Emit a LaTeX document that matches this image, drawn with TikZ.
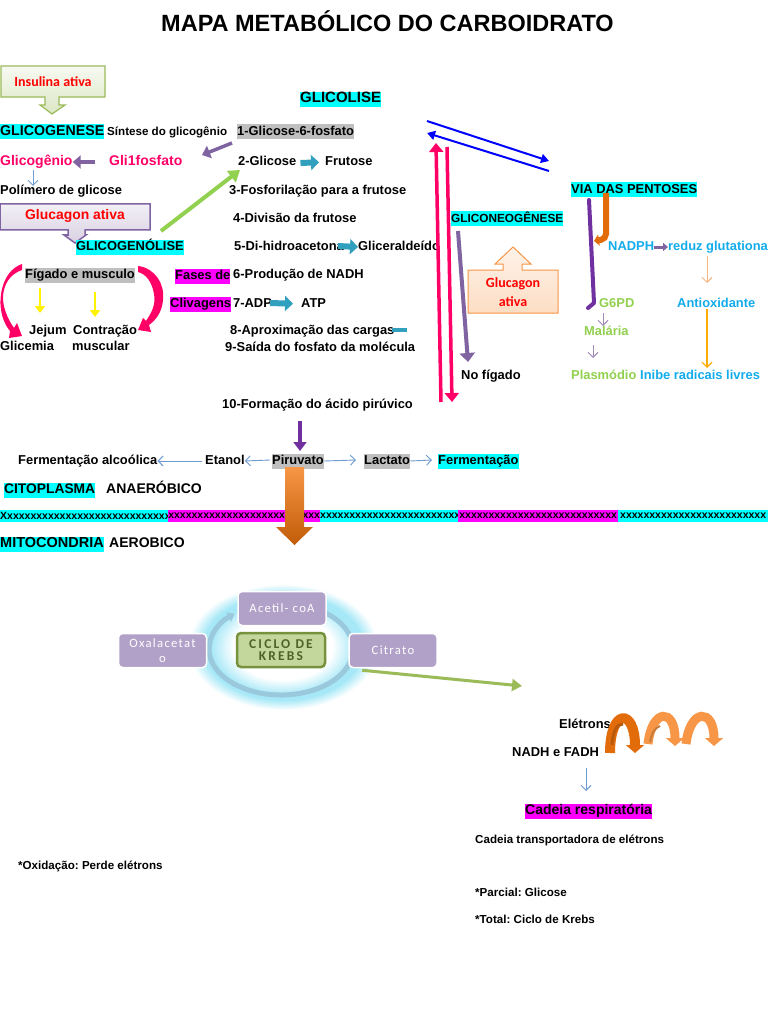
\documentclass[tikz,border=0pt]{standalone}
\usepackage{fontspec}
\setmainfont{Liberation Sans}
\newfontfamily\calibrifont{Carlito}
\newfontfamily\spacedfont[LetterSpace=10]{Carlito}
\newfontfamily\widefont[LetterSpace=16]{Carlito}
\usetikzlibrary{arrows.meta}
\definecolor{hlcyan}{HTML}{00FFFF}
\definecolor{hlmagenta}{HTML}{FF00FF}
\definecolor{hlgray}{HTML}{BFBFBF}
\definecolor{pinktext}{HTML}{FF0066}
\definecolor{skytext}{HTML}{12ACEC}
\definecolor{leaftext}{HTML}{92D050}
\definecolor{violetline}{HTML}{8064A2}
\definecolor{deepviolet}{HTML}{7030A0}
\definecolor{tealarrow}{HTML}{31A0BE}
\definecolor{thinblue}{HTML}{6E9BD2}
\definecolor{orangeline}{HTML}{E36C0A}
\definecolor{orangelight}{HTML}{F79646}
\definecolor{orangedark}{HTML}{B85A0A}
\definecolor{glowcyan}{HTML}{A6E8F7}
\definecolor{ringblue}{HTML}{9AC8DC}
\definecolor{boxviolet}{HTML}{B1A0C7}
\definecolor{krebsfill}{HTML}{C3D69B}
\definecolor{krebsline}{HTML}{76923C}
\definecolor{krebstext}{HTML}{4F6228}
\definecolor{oliveline}{HTML}{9BBB59}
\pgfdeclareradialshading{glowring}{\pgfpoint{0bp}{0bp}}{color(0bp)=(white); color(13bp)=(white); color(19bp)=(glowcyan); color(21bp)=(glowcyan); color(25bp)=(white); color(50bp)=(white)}

\begin{document}
\frenchspacing
\begin{tikzpicture}[x=1pt,y=-1pt]
	\tikzstyle{lbl}=[anchor=west,inner sep=0pt,yshift=-1pt,text height=9.5pt,text depth=2.5pt,font=\bfseries\fontsize{12.9}{14}\selectfont]
	\tikzstyle{biglbl}=[lbl,font=\bfseries\fontsize{14}{16}\selectfont]
	\tikzstyle{smalllbl}=[lbl,font=\bfseries\fontsize{11.6}{13}\selectfont]
	\tikzstyle{cyanlbl}=[lbl,fill=hlcyan,inner ysep=1.5pt]
	\tikzstyle{magentalbl}=[lbl,fill=hlmagenta,inner ysep=1.5pt]
	\tikzstyle{graylbl}=[lbl,fill=hlgray,inner ysep=1.5pt]
	\tikzstyle{stripbit}=[anchor=west,inner sep=0pt,minimum height=12pt,font=\bfseries\fontsize{10.5}{12}\selectfont]
	\tikzstyle{calloutlbl}=[inner sep=0pt,align=center,text=red,font=\calibrifont\bfseries\fontsize{14}{19}\selectfont]
	\tikzstyle{krebsbox}=[draw=white,line width=1.5pt,rounded corners=4pt,fill=boxviolet,text=white,minimum width=88pt,minimum height=34pt,align=center,inner sep=1pt,font=\spacedfont\fontsize{12.7}{15}\selectfont]
	\tikzstyle{teal}=[tealarrow,line width=6pt,-{Triangle[length=8pt,width=15pt]}]
	\tikzstyle{violet}=[violetline,line width=3.5pt,-{Triangle[length=8pt,width=13pt]}]
	\tikzstyle{thin blue}=[thinblue,line width=0.9pt,-{Straight Barb[length=5pt,width=10pt]}]
	\tikzstyle{pinkline}=[pinktext,line width=3.5pt,-{Triangle[length=9pt,width=14pt]}]
	\tikzstyle{blueline}=[blue,line width=2pt,-{Triangle[length=8pt,width=9pt]}]
	\tikzstyle{yellowline}=[yellow,line width=2.8pt,-{Triangle[length=7pt,width=10pt]}]
	\tikzstyle{spiral}=[orangelight,line width=9pt,-{Triangle[length=8pt,width=18pt]}]

	\useasboundingbox (0,0) rectangle (768,1024);
	\fill[white] (0,0) rectangle (768,1024);

	\node[inner sep=0pt,font=\bfseries\fontsize{23.5}{26}\selectfont] (title) at (387.5,21) {MAPA METABÓLICO DO CARBOIDRATO};

	\draw[draw=oliveline,line width=1.2pt,top color=oliveline!8,bottom color=oliveline!35] (1,66) -- (105,66) -- (105,97) -- (59,97) -- (59,105) -- (65,105) -- (52,114) -- (40,105) -- (45,105) -- (45,97) -- (1,97) -- cycle;
	\node[calloutlbl] (insulina) at (53,82) {Insulina ativa};
	\draw[draw=violetline,line width=1.5pt,top color=violetline!10,bottom color=violetline!30] (0,204) -- (150,204) -- (150,230) -- (85,230) -- (85,235) -- (86,235) -- (75,243) -- (64,235) -- (68,235) -- (68,230) -- (0,230) -- cycle;
	\node[inner sep=0pt,text=red,font=\bfseries\fontsize{13.9}{16}\selectfont] (glucagonA) at (75,216) {Glucagon ativa};
	\draw[draw=orangelight,line width=1pt,top color=orangelight!12,bottom color=orangelight!32] (468,270) -- (503,270) -- (503,264) -- (495,264) -- (513,247) -- (531,264) -- (522,264) -- (522,270) -- (558,270) -- (558,313) -- (468,313) -- cycle;
	\node[calloutlbl] (glucagonB) at (513,292.5) {Glucagon\\ativa};

	\node[cyanlbl,font=\bfseries\fontsize{15}{17}\selectfont] (glicolise) at (300,98.5) {GLICOLISE};
	\node[cyanlbl,font=\bfseries\fontsize{14.2}{16}\selectfont] (glicogenese) at (0,131) {GLICOGENESE};
	\node[smalllbl] (sintese) at (107,131) {Síntese do glicogênio};
	\node[graylbl] (step1) at (237,131) {1-Glicose-6-fosfato};
	\node[biglbl,text=pinktext] (glicogenio) at (0,161) {Glicogênio};
	\node[biglbl,text=pinktext] (gli1) at (109,161) {Gli1fosfato};
	\node[lbl] (step2) at (238,161) {2-Glicose};
	\node[lbl] (frutose) at (325,161) {Frutose};
	\node[lbl] (polimero) at (0,190) {Polímero de glicose};
	\node[lbl] (step3) at (229,190) {3-Fosforilação para a frutose};
	\node[lbl] (step4) at (233,218) {4-Divisão da frutose};
	\node[lbl] (step5) at (234,246) {5-Di-hidroacetona};
	\node[lbl] (gliceraldeido) at (358,246) {Gliceraldeído};
	\node[cyanlbl] (glicogenolise) at (76,246) {GLICOGENÓLISE};
	\node[graylbl] (figado) at (25,274) {Fígado e musculo};
	\node[magentalbl] (fases) at (175,275) {Fases de};
	\node[lbl] (step6) at (233,274) {6-Produção de NADH};
	\node[magentalbl] (clivagens) at (170,303) {Clivagens};
	\node[lbl] (step7) at (233,303) {7-ADP};
	\node[lbl] (atp) at (301,303) {ATP};
	\node[lbl] (jejum) at (29,330) {Jejum};
	\node[lbl] (contracao) at (73,330) {Contração};
	\node[lbl] (glicemia) at (0,346) {Glicemia};
	\node[lbl] (muscular) at (72,346) {muscular};
	\node[lbl] (step8) at (230,330) {8-Aproximação das cargas};
	\node[lbl] (step9) at (225,347) {9-Saída do fosfato da molécula};
	\node[lbl] (step10) at (222,404) {10-Formação do ácido pirúvico};

	\node[cyanlbl,font=\bfseries\fontsize{11.8}{14}\selectfont] (neogenese) at (451,218) {GLICONEOGÊNESE};
	\node[lbl] (nofigado) at (461,375) {No fígado};
	\node[cyanlbl] (pentoses) at (571,189) {VIA DAS PENTOSES};
	\node[lbl,text=skytext] (nadph) at (608,246) {NADPH};
	\node[lbl,text=skytext] (reduz) at (668,246) {reduz glutationa};
	\node[lbl,text=leaftext] (g6pd) at (599,303) {G6PD};
	\node[lbl,text=skytext] (antioxidante) at (677,303) {Antioxidante};
	\node[lbl,text=leaftext] (malaria) at (584,331) {Malária};
	\node[lbl,text=leaftext] (plasmodio) at (571,375) {Plasmódio};
	\node[lbl,text=skytext] (inibe) at (640,375) {Inibe radicais livres};

	\node[lbl] (alcoolica) at (18,460) {Fermentação alcoólica};
	\node[lbl] (etanol) at (205,460) {Etanol};
	\node[graylbl] (piruvato) at (272,460) {Piruvato\hspace{6pt}};
	\node[graylbl] (lactato) at (364,460) {Lactato};
	\node[cyanlbl] (fermentacao) at (438,460) {Fermentação};
	\node[cyanlbl,font=\bfseries\fontsize{13.8}{15}\selectfont] (citoplasma) at (4,489) {CITOPLASMA\hspace{3pt}};
	\node[biglbl] (anaerobico) at (106,489) {ANAERÓBICO};

	\node[stripbit,fill=hlcyan,minimum width=168pt] (strip1) at (0,516) {Xxxxxxxxxxxxxxxxxxxxxxxxxxxxx};
	\node[stripbit,fill=hlmagenta,minimum width=152pt] (strip2) at (168,516) {xxxxxxxxxxxxxxxxxxxxxxxxxx};
	\node[stripbit,fill=hlcyan,minimum width=138pt] (strip3) at (320,516) {xxxxxxxxxxxxxxxxxxxxxxxx};
	\node[stripbit,fill=hlmagenta,minimum width=160pt] (strip4) at (458,516) {xxxxxxxxxxxxxxxxxxxxxxxxxxx};
	\node[stripbit,fill=hlcyan,minimum width=150pt] (strip5) at (618,516) {xxxxxxxxxxxxxxxxxxxxxxxxx};

	\node[cyanlbl,font=\bfseries\fontsize{14.5}{16}\selectfont] (mitocondria) at (0,543) {MITOCONDRIA\hspace{3pt}};
	\node[biglbl] (aerobico) at (109,543) {AEROBICO};

	\shade[shading=glowring] (283,647) ellipse (95 and 63);
	\coordinate (ringcentre) at (281,649);
	\draw[ringblue,line width=5pt,-{Triangle[length=7pt,width=10pt]}] (ringcentre) ++(-60:72 and 46) arc[start angle=-60,end angle=230,x radius=72,y radius=46];
	\node[krebsbox] (acetil) at (282,608.5) {Acetil- coA};
	\node[krebsbox] (oxalacetato) at (162.5,650.5) {Oxalacetat\\o};
	\node[krebsbox] (citrato) at (393,650.5) {Citrato};
	\node[draw=krebsline,line width=2.5pt,rounded corners=4pt,fill=krebsfill,text=krebstext,minimum width=88pt,minimum height=34pt,align=center,inner sep=1pt,font=\widefont\bfseries\fontsize{13.5}{12}\selectfont] (krebs) at (281,650) {CICLO DE\\KREBS};

	\node[lbl] (eletrons) at (559,724) {Elétrons};
	\node[lbl] (nadh) at (512,752) {NADH e FADH};
	\node[magentalbl,font=\bfseries\fontsize{14}{16}\selectfont] (cadeia) at (525,810) {Cadeia respiratória};
	\node[smalllbl] (transportadora) at (475,839) {Cadeia transportadora de elétrons};
	\node[smalllbl] (oxidacao) at (18,865) {*Oxidação: Perde elétrons};
	\node[smalllbl] (parcial) at (475,892) {*Parcial: Glicose};
	\node[smalllbl] (total) at (475,919) {*Total: Ciclo de Krebs};

	\coordinate (violetA) at (232,143);
	\coordinate (violetB) at (202,155);
	\coordinate (greenA) at (161,231);
	\coordinate (greenB) at (240,170);
	\coordinate (polA) at (33,170);
	\coordinate (polB) at (33,186);
	\coordinate (gliA) at (95,162);
	\draw[violet] (violetA) -- (violetB);
	\draw[violet] (gliA) -- (glicogenio.east);
	\draw[thin blue] (polA) -- (polB);
	\draw[leaftext,line width=4pt,-{Triangle[length=11pt,width=14pt]}] (greenA) -- (greenB);
	\draw[teal,shorten >=6pt] (step2.east) ++(4,1) -- (frutose.west);
	\coordinate (tealA) at (338,246);
	\draw[teal] (tealA) -- (gliceraldeido.west);
	\coordinate (tealB) at (270,303);
	\draw[teal,shorten >=8pt] (tealB) -- (atp.west);
	\coordinate (barA) at (392,330);
	\coordinate (barB) at (407,330);
	\draw[tealarrow,line width=3.5pt] (barA) -- (barB);

	\fill[pinktext] (22,264) .. controls (5,270) and (0,290) .. (0.5,304) .. controls (1,316) and (5,325) .. (10,331) -- (9,338) -- (22,336) -- (17,323) -- (14,328) .. controls (7,318) and (2.5,306) .. (3,296) .. controls (4,284) and (10,274) .. (22,270) -- cycle;
	\fill[pinktext] (138,266) .. controls (155,268) and (165,284) .. (163,300) .. controls (162,312) and (156,320) .. (149,325) -- (151,332) -- (138,330) -- (143,318) -- (146,321) .. controls (152,312) and (156,304) .. (154,294) .. controls (152,282) and (146,274) .. (138,272) -- cycle;
	\coordinate (yellowA) at (40,288);
	\coordinate (yellowB) at (40,313);
	\coordinate (yellowC) at (95,292);
	\coordinate (yellowD) at (95,317);
	\draw[yellowline] (yellowA) -- (yellowB);
	\draw[yellowline] (yellowC) -- (yellowD);

	\coordinate (pinkA) at (441,402);
	\coordinate (pinkB) at (436,143);
	\coordinate (pinkC) at (447,147);
	\coordinate (pinkD) at (452,402);
	\draw[pinkline] (pinkA) -- (pinkB);
	\draw[pinkline] (pinkC) -- (pinkD);
	\coordinate (blueA) at (427,121);
	\coordinate (blueB) at (549,161);
	\coordinate (blueC) at (549,171);
	\coordinate (blueD) at (427,133);
	\draw[blueline] (blueA) -- (blueB);
	\draw[blueline] (blueC) -- (blueD);
	\coordinate (neoA) at (458,231);
	\coordinate (neoB) at (468,362);
	\draw[violet,line width=4pt,-{Triangle[length=9pt,width=15pt]}] (neoA) -- (neoB);

	\coordinate (hookA) at (589,200);
	\coordinate (hookB) at (594,303);
	\coordinate (hookC) at (588,308);
	\coordinate (hookD) at (606,193);
	\coordinate (hookE) at (606,239);
	\coordinate (hookF) at (594,241);
	\draw[deepviolet,line width=4pt,line cap=round,line join=round] (hookA) -- (hookB) -- (hookC);
	\draw[orangeline,line width=6pt,rounded corners=5pt,-{Triangle[length=5pt,width=11pt]}] (hookD) -- (hookE) -- (hookF);
	\draw[violetline,line width=3pt,-{Triangle[length=5pt,width=8pt]}] (nadph.east) -- (reduz.west);
	\coordinate (antiA) at (707,256);
	\coordinate (antiB) at (707,283);
	\coordinate (antiC) at (707,309);
	\coordinate (antiD) at (707,368);
	\coordinate (malA) at (603,313);
	\coordinate (malB) at (603,326);
	\coordinate (malC) at (593,345);
	\coordinate (malD) at (593,358);
	\draw[thin blue,color=orangelight!70] (antiA) -- (antiB);
	\draw[thin blue,color=orange!65!yellow,line width=1.2pt] (antiC) -- (antiD);
	\draw[thin blue,color=violetline!75] (malA) -- (malB);
	\draw[thin blue,color=violetline!75] (malC) -- (malD);

	\coordinate (pirA) at (300,421);
	\coordinate (pirB) at (300,451);
	\draw[deepviolet,line width=4pt,-{Triangle[length=9pt,width=13pt]}] (pirA) -- (pirB);
	\coordinate (etA) at (270,460);
	\coordinate (ferA) at (356,460);
	\coordinate (ferB) at (432,460);
	\draw[thin blue] (etA) -- (etanol.east);
	\draw[thin blue] (etanol.west) ++(-43,0) coordinate (alcA) ++(40,0) -- (alcoolica.east);
	\draw[thin blue] (piruvato.east) -- (ferA);
	\draw[thin blue] (lactato.east) -- (ferB);

	\shade[top color=orangelight,bottom color=orangeline!85!black] (285,467) coordinate (orangeA) -- (304,467) -- (304,527) -- (313,527) -- (294.5,545) coordinate (orangeB) -- (276,527) -- (285,527) -- cycle;

	\coordinate (citB) at (522,686);
	\draw[oliveline,line width=3pt,-{Triangle[length=10pt,width=12pt]}] (citrato.south west) ++(14,2) coordinate (citA) -- (citB);
	\coordinate (spinA) at (610,753);
	\coordinate (spinB) at (635,753);
	\coordinate (spinC) at (648,744);
	\coordinate (spinD) at (675,746);
	\coordinate (spinE) at (686,744);
	\coordinate (spinF) at (714,746);
	\draw[spiral,orangeline,line width=10pt] (spinA) .. controls (610,708) and (635,708) .. (spinB);
	\draw[spiral] (spinC) .. controls (652,708) and (675,708) .. (spinD);
	\draw[spiral] (spinE) .. controls (690,708) and (714,708) .. (spinF);
	\draw[orangedark,line width=3pt] (612,745) .. controls (613,730) and (617,724) .. (623,724);
	\draw[orangedark!80,line width=2pt] (650,742) .. controls (652,732) and (655,728) .. (660,726);
	\coordinate (nadhA) at (586,768);
	\coordinate (nadhB) at (586,791);
	\draw[thin blue] (nadhA) -- (nadhB);
\end{tikzpicture}
\end{document}
